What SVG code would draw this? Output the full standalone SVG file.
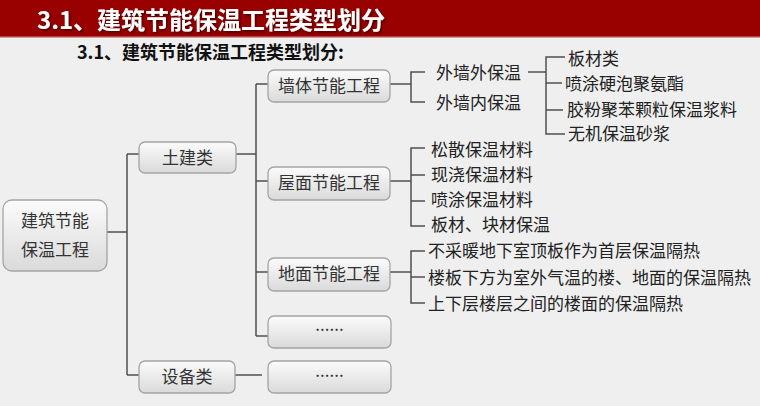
<svg xmlns="http://www.w3.org/2000/svg" width="760" height="406" viewBox="0 0 760 406">
<defs>
<linearGradient id="bg" x1="0" y1="0" x2="0" y2="1">
<stop offset="0" stop-color="#fbfbfb"/>
<stop offset="1" stop-color="#dadada"/>
</linearGradient>
<filter id="sh" x="-5%" y="-20%" width="110%" height="150%">
<feDropShadow dx="1.5" dy="1.5" stdDeviation="0.8" flood-color="#300000" flood-opacity="0.8"/>
</filter>
<style>
.box{fill:url(#bg);stroke:#a4a4a4;stroke-width:1.3}
.nt{font-family:"Noto Sans CJK SC","Microsoft YaHei",sans-serif;font-size:17px;fill:#333;text-anchor:middle}
.lt{font-family:"Noto Sans CJK SC","Microsoft YaHei",sans-serif;font-size:17px;fill:#222}
.ln{stroke:#505050;stroke-width:1.5;fill:none}
</style>
</defs>
<rect width="760" height="406" fill="#efefef"/>
<g id="header">
<rect x="0" y="0" width="760" height="37" fill="#990000"/>
<rect x="0" y="36" width="760" height="1.5" fill="#b34444"/>
<text x="37" y="29" font-family="Noto Sans CJK SC,sans-serif" font-size="24" font-weight="bold" fill="#fff" filter="url(#sh)">3.1、建筑节能保温工程类型划分</text>
</g>
<text x="77" y="59" font-family="Noto Sans CJK SC,sans-serif" font-size="18" font-weight="bold" fill="#111">3.1、建筑节能保温工程类型划分:</text>
<g id="connectors" class="ln">
<path d="M107 232H127M127 154V375M127 154H139M127 375H139"/>
<path d="M236 154H256M256 84V336M256 84H268M256 181H268M256 272H268M256 336H268"/>
<path d="M235 375H262"/>
<path d="M390 84H411M425 72H411V102H425"/>
<path d="M528 72H546M565 57H546V134H565M546 83H562M546 110H563"/>
<path d="M390 181H411M425 148H411V226H425M411 175H425M411 201H425"/>
<path d="M390 272H411M425 251H411V303H425M411 277H425"/>
</g>
<g id="root"><rect class="box" x="3" y="200" width="104" height="71" rx="9"/><text class="nt" x="55" y="227">建筑节能</text><text class="nt" x="55" y="256">保温工程</text></g>
<g id="tujian"><rect class="box" x="139" y="142" width="97" height="31" rx="6"/><text class="nt" x="187.5" y="164">土建类</text></g>
<g id="shebei"><rect class="box" x="139" y="361" width="96" height="32" rx="6"/><text class="nt" x="187" y="383">设备类</text></g>
<g id="qiangti"><rect class="box" x="268" y="70" width="122" height="32" rx="6"/><text class="nt" x="329" y="92">墙体节能工程</text></g>
<g id="wumian"><rect class="box" x="268" y="167" width="122" height="33" rx="6"/><text class="nt" x="329" y="189">屋面节能工程</text></g>
<g id="dimian"><rect class="box" x="268" y="258" width="122" height="33" rx="6"/><text class="nt" x="329" y="280">地面节能工程</text></g>
<g id="more1"><rect class="box" x="268" y="316" width="123" height="32" rx="6"/><text class="nt" x="329.5" y="331">......</text></g>
<g id="more2"><rect class="box" x="268" y="361" width="123" height="32" rx="6"/><text class="nt" x="329.5" y="377">......</text></g>
<g id="leaves">
<text class="lt" x="436" y="79">外墙外保温</text>
<text class="lt" x="436" y="109">外墙内保温</text>
<text class="lt" x="568" y="65">板材类</text>
<text class="lt" x="565" y="90">喷涂硬泡聚氨酯</text>
<text class="lt" x="567" y="116">胶粉聚苯颗粒保温浆料</text>
<text class="lt" x="568" y="140">无机保温砂浆</text>
<text class="lt" x="431" y="156">松散保温材料</text>
<text class="lt" x="431" y="181">现浇保温材料</text>
<text class="lt" x="431" y="206">喷涂保温材料</text>
<text class="lt" x="431" y="231">板材、块材保温</text>
<text class="lt" x="428" y="257">不采暖地下室顶板作为首层保温隔热</text>
<text class="lt" x="428" y="284">楼板下方为室外气温的楼、地面的保温隔热</text>
<text class="lt" x="428" y="310">上下层楼层之间的楼面的保温隔热</text>
</g>
</svg>
